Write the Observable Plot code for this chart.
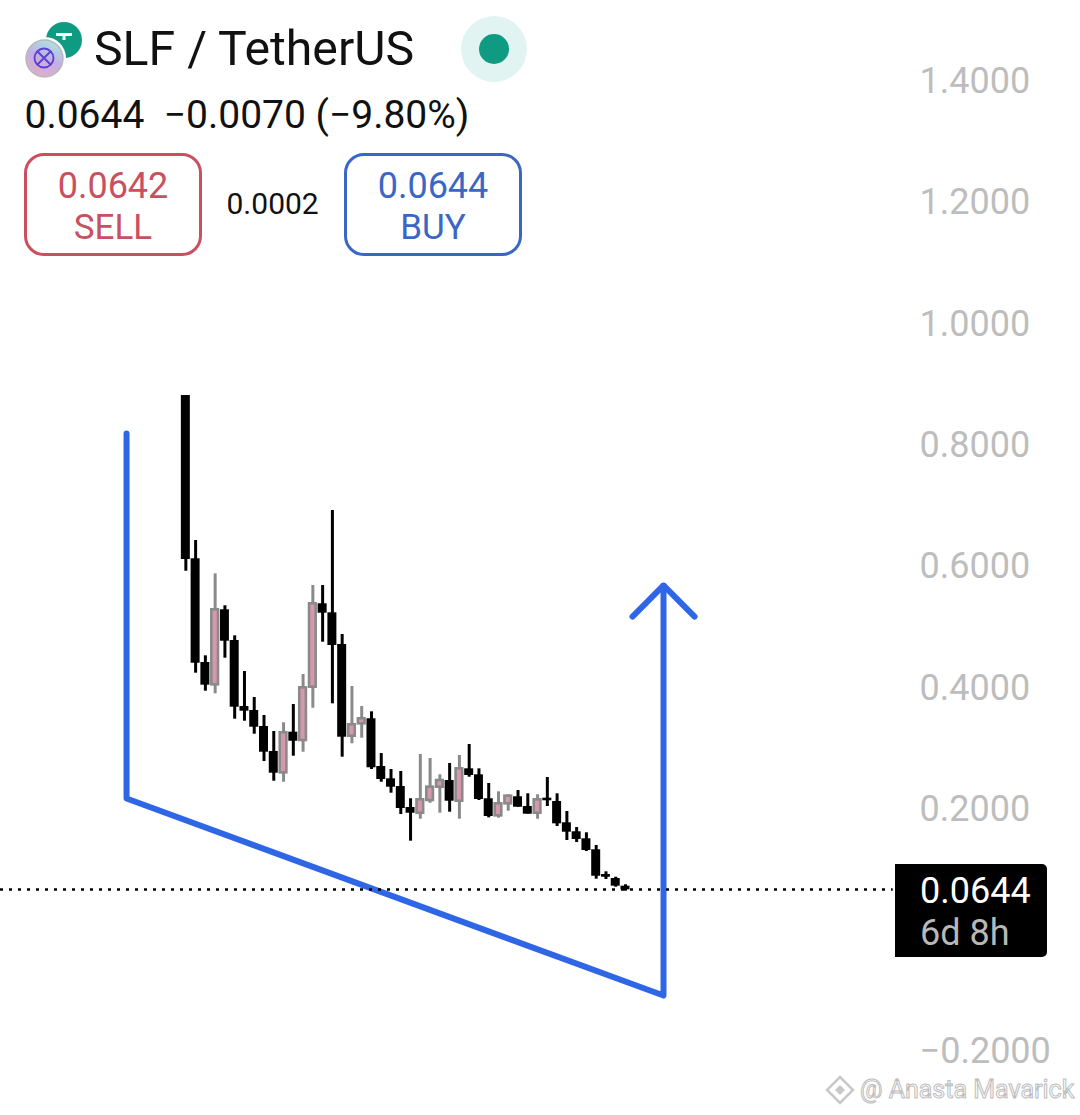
<!DOCTYPE html>
<html>
<head>
<meta charset="utf-8">
<script src="https://cdn.jsdelivr.net/npm/d3@7"></script>
<script src="https://cdn.jsdelivr.net/npm/@observablehq/plot@0.6"></script>
<style>
html,body{margin:0;padding:0;background:#fff;}
#page{position:relative;width:1080px;height:1115px;overflow:hidden;font-family:Roboto,sans-serif;}
#chart{position:absolute;left:0;top:0;}
.t{position:absolute;white-space:pre;line-height:1;}
.box{position:absolute;box-sizing:border-box;width:178px;height:103px;top:153px;border-radius:20px;border:3px solid;background:#fff;}
#icons{position:absolute;left:0;top:0;}
</style>
</head>
<body>
<div id="page">
  <div id="chart"></div>
  <svg id="icons" width="1080" height="1115">
    <defs>
      <linearGradient id="slf" x1="0.7" y1="0" x2="0.3" y2="1">
        <stop offset="0" stop-color="#a9e6e0"/><stop offset="0.5" stop-color="#c3aee6"/><stop offset="1" stop-color="#e0b0c4"/>
      </linearGradient>
    </defs>
    <circle cx="64" cy="40" r="18" fill="#0f9a82"/>
    <path d="M56 33h16v3h-6.500v4h-3v-4h-6.500z" fill="#fff"/>
    <circle cx="45" cy="58" r="21" fill="#fff"/>
    <circle cx="44.500" cy="58.500" r="18.500" fill="url(#slf)" stroke="#b9b9b9" stroke-width="1.500"/>
    <g fill="none" stroke="#5b3fd0" stroke-width="1.800">
      <circle cx="44" cy="58" r="9.500"/>
      <path d="M37 51l14 14M51 51l-14 14"/>
    </g>
    <circle cx="494" cy="49" r="33" fill="#e2f4f1"/>
    <circle cx="494" cy="49" r="15" fill="#0f9a82"/>
    <rect x="895" y="864" width="145" height="93" fill="#000"/>
    <rect x="1030" y="864" width="17" height="93" rx="5" fill="#000"/>
    <g fill="none" stroke="#c9c9c9" stroke-width="2.500">
      <path d="M840 1077l13 13-13 13-13-13z"/>
      <path d="M840 1085l5 5-5 5-5-5z" fill="#c9c9c9" stroke="none"/>
    </g>
  </svg>
  <div class="t" style="left:94px;top:25px;font-size:48.200px;color:#111;">SLF / TetherUS</div>
  <div class="t" style="left:24.500px;top:96px;font-size:39px;color:#111;">0.0644  −0.0070 (−9.80%)</div>
  <div class="box" style="left:24px;border-color:#c8505f;"></div>
  <div class="box" style="left:344px;border-color:#3a67c6;"></div>
  <div class="t" style="left:24px;width:178px;text-align:center;top:168px;font-size:36px;color:#c8505f;">0.0642</div>
  <div class="t" style="left:24px;width:178px;text-align:center;top:210px;font-size:35px;color:#c8505f;">SELL</div>
  <div class="t" style="left:226.500px;top:189px;font-size:30px;color:#111;">0.0002</div>
  <div class="t" style="left:344px;width:178px;text-align:center;top:168px;font-size:36px;color:#3a67c6;">0.0644</div>
  <div class="t" style="left:344px;width:178px;text-align:center;top:210px;font-size:35px;color:#3a67c6;">BUY</div>
  <div class="t" style="left:920px;top:873px;font-size:36px;color:#fff;">0.0644</div>
  <div class="t" style="left:920px;top:915px;font-size:36px;color:#b8b8b8;">6d 8h</div>
  <div class="t" style="left:860px;top:1077px;font-size:25px;color:#fff;-webkit-text-stroke:1px #bdbdbd;">@ Anasta Mavarick</div>
</div>
<script>
// Candle data (prices)
const highs = [0.8806,0.6416,0.4514,0.5866,0.5339,0.4844,0.4256,0.3827,0.3530,0.3266,0.3410,0.3711,0.4206,0.5674,0.5674,0.6910,0.4866,0.4008,0.3678,0.3591,0.2904,0.2640,0.2607,0.2157,0.2887,0.2821,0.2552,0.2739,0.2871,0.3052,0.2651,0.2409,0.2272,0.2223,0.2294,0.2239,0.2223,0.2508,0.2239,0.1947,0.1683,0.1596,0.1387,0.0953,0.0864,0.0739];
const bodyTops = [0.8806,0.6114,0.4404,0.5273,0.5273,0.4767,0.3678,0.3613,0.3349,0.2937,0.3245,0.3255,0.3987,0.5372,0.5372,0.5223,0.4701,0.3377,0.3476,0.3476,0.2689,0.2486,0.2359,0.2013,0.2140,0.2348,0.2458,0.2458,0.2651,0.2651,0.2552,0.2157,0.2074,0.2200,0.2190,0.2030,0.2140,0.2167,0.2112,0.1761,0.1613,0.1497,0.1316,0.0908,0.0843,0.0716];
const bodyBottoms = [0.6102,0.4392,0.4030,0.4036,0.4755,0.3667,0.3601,0.3337,0.2925,0.2579,0.2585,0.3106,0.3118,0.3997,0.5217,0.4684,0.3172,0.3189,0.3393,0.2668,0.2475,0.2348,0.1997,0.1919,0.1919,0.2129,0.2348,0.2117,0.2117,0.2541,0.2145,0.1865,0.1876,0.2074,0.2018,0.1903,0.1919,0.2124,0.1744,0.1606,0.1486,0.1304,0.0880,0.0864,0.0716,0.0656];
const lows = [0.5909,0.4228,0.3931,0.3888,0.4475,0.3469,0.3436,0.3222,0.2772,0.2447,0.2430,0.2859,0.2925,0.3650,0.4739,0.3723,0.2843,0.3064,0.3156,0.2640,0.2430,0.2249,0.1898,0.1458,0.1820,0.2084,0.1919,0.1936,0.1820,0.2513,0.2129,0.1843,0.1837,0.1952,0.2018,0.1903,0.1820,0.2030,0.1700,0.1469,0.1436,0.1288,0.0831,0.0826,0.0699,0.0633];
const risingCandles = [3,10,12,13,17,18,24,25,26,28,32,33,36];
// Axis
const tickValues = [1.4,1.2,1.0,0.8,0.6,0.4,0.2,-0.2];
const lastPrice = 0.0644;
// Drawn annotation (candle index, price)
const sweepX = [-6.07,-6.07,48.89,48.89];
const sweepY = [0.8180,0.2162,-0.1087,0.5674];
const headX = [45.72,48.89,52.07];
const headY = [0.5162,0.5674,0.5162];

const candles = highs.map((h,i)=>({i,high:h,top:bodyTops[i],bottom:bodyBottoms[i],low:lows[i],up:risingCandles.includes(i)}));
const downs = candles.filter(d=>!d.up), ups = candles.filter(d=>d.up);
const sweep = sweepX.map((x,k)=>({x,y:sweepY[k]}));
const head = headX.map((x,k)=>({x,y:headY[k]}));
const labelX = 75.1, priceLineEnd = 72.4;

const plot = Plot.plot({
  width:1080,height:1115,margin:0,
  style:{background:"transparent",fontFamily:"Roboto,sans-serif"},
  x:{domain:[-18.97,91.57],range:[0,1080],axis:null},
  y:{domain:[-0.3065,1.5319],range:[1115,0],axis:null},
  marks:[
    Plot.text(tickValues,{x:()=>labelX,y:d=>d,dy:1,text:d=>d3.format(".4f")(d).replace("-","−"),textAnchor:"start",fontSize:36,fill:"#bdbdbd"}),
    Plot.ruleX(downs,{x:"i",y1:"low",y2:"high",stroke:"#000",strokeWidth:3}),
    Plot.rect(downs,{x1:d=>d.i-0.46,x2:d=>d.i+0.46,y1:"bottom",y2:"top",fill:"#000"}),
    Plot.ruleX(ups,{x:"i",y1:"low",y2:"high",stroke:"#8a8a8a",strokeWidth:3}),
    Plot.rect(ups,{x1:d=>d.i-0.34,x2:d=>d.i+0.34,y1:"bottom",y2:"top",fill:"#d897ae",stroke:"#8a8a8a",strokeWidth:2.6}),
    Plot.line(sweep,{x:"x",y:"y",stroke:"#2f66e6",strokeWidth:6,strokeLinejoin:"round",strokeLinecap:"round"}),
    Plot.line(head,{x:"x",y:"y",stroke:"#2f66e6",strokeWidth:6,strokeLinejoin:"miter",strokeLinecap:"round"}),
    Plot.ruleY([lastPrice],{x1:-18.97,x2:priceLineEnd,dy:-1,stroke:"#000",strokeWidth:2.6,strokeDasharray:"3 6"})
  ]
});
document.getElementById("chart").appendChild(plot);
</script>
</body>
</html>
